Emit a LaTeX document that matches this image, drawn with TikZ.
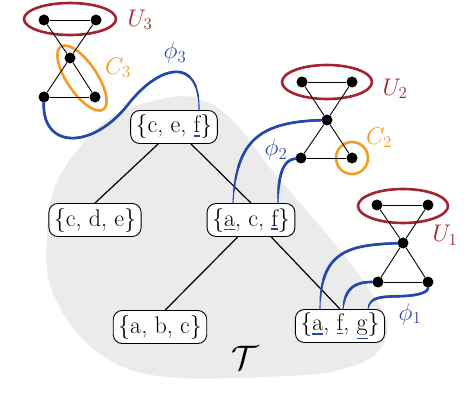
\documentclass[tikz,border=0pt]{standalone}
\usepackage{fix-cm}
\usetikzlibrary{calc,decorations}
\definecolor{phiblue}{HTML}{2449AA}
\definecolor{phitext}{HTML}{3048A0}
\definecolor{ured}{HTML}{A3242F}
\definecolor{corange}{HTML}{F39C26}
\definecolor{blobgray}{HTML}{EBEBEB}
\newcommand\bul[1]{\setbox0=\hbox{#1}\rlap{\color{phiblue}\rule[\dimexpr-\dp0-3.8pt\relax]{\wd0}{1.4pt}}\box0}
\newcommand\phicurve[4]{%
  \draw[phic, line width=1.1pt] #4;
  \draw[phic, line width=1.6pt, decorate, decoration={curveto, pre=moveto, pre length=#1}] #4;
  \draw[phic, line width=2.1pt, decorate, decoration={curveto, pre=moveto, pre length=#2}] #4;
  \draw[phic, line width=2.6pt, decorate, decoration={curveto, pre=moveto, pre length=#3}] #4;}
\begin{document}
\begin{tikzpicture}[x=1pt,y=-1pt,
  bag/.style={draw, line width=0.9pt, fill=white, rounded corners=9pt, minimum height=33pt, inner xsep=5pt, inner ysep=3pt, font=\fontsize{24}{28}\selectfont},
  tedge/.style={line width=1.2pt},
  gv/.style={circle, fill=black, inner sep=0pt, minimum size=11pt},
  gedge/.style={line width=0.9pt},
  uell/.style={draw=ured, line width=2.6pt},
  cell/.style={draw=corange, line width=2.6pt},
  phic/.style={draw=phiblue, line cap=round},
  lab/.style={font=\fontsize{24}{28}\selectfont, inner sep=0pt},
]
\useasboundingbox (0,0) rectangle (474,401);
% shaded region
\fill[blobgray] plot[smooth cycle, tension=0.6] coordinates {(172,97) (113,116) (73,156) (53,192) (47,235) (50,285) (78,334) (123,367) (180,378) (263,377) (330,372) (372,357) (387,334) (383,312) (357,272) (313,218) (270,168) (237,125) (207,102)};
% tree nodes
\node[bag] (cef) at (174,127) {\{c, e, \bul{f}\}};
\node[bag] (cde) at (95,220) {\{c, d, e\}};
\node[bag] (acf) at (251,220) {\{\bul{a}, c, \bul{f}\}};
\node[bag] (abc) at (160,327) {\{a, b, c\}};
\node[bag] (afg) at (340,326) {\{\bul{a}, \bul{f}, \bul{g}\}};
\draw[tedge] (cef.-133) -- (cde.north);
\draw[tedge] (cef.-45) -- (acf.north);
\draw[tedge] (acf.-128) -- (abc.73);
\draw[tedge] (acf.-40) -- (afg.north);
\node[lab, font=\fontsize{34}{38}\selectfont] (tau) at (245,358) {$\mathcal{T}$};
% graph 3
\draw[uell] (70,19) ellipse [x radius=46, y radius=16];
\draw[cell, rotate around={-56:(82,78)}] (82,78) ellipse [x radius=38, y radius=15];
\node[gv] (g3tl) at (44,20) {};
\node[gv] (g3tr) at (96,20) {};
\node[gv] (g3m) at (70,58) {};
\node[gv] (g3bl) at (44,97) {};
\node[gv] (g3br) at (95,97) {};
% graph 2
\draw[uell] (327,82) ellipse [x radius=45, y radius=17];
\draw[cell] (352,158) circle [radius=16];
\node[gv] (g2tl) at (302,82) {};
\node[gv] (g2tr) at (352,82) {};
\node[gv] (g2m) at (327,120) {};
\node[gv] (g2bl) at (301,158) {};
\node[gv] (g2br) at (352,158) {};
% graph 1
\draw[uell] (403,206) ellipse [x radius=45, y radius=17];
\node[gv] (g1tl) at (377,205) {};
\node[gv] (g1tr) at (428,205) {};
\node[gv] (g1m) at (403,243) {};
\node[gv] (g1bl) at (378,282) {};
\node[gv] (g1br) at (428,282) {};
\foreach \g in {g1,g2,g3}{
  \draw[gedge] (\g tl) -- (\g tr);
  \draw[gedge] (\g bl) -- (\g br);
  \draw[gedge] (\g tl) -- (\g m) -- (\g br);
  \draw[gedge] (\g tr) -- (\g m) -- (\g bl);
}
% anchor points on bags
\coordinate (cefF) at ($(cef.north)+(25,0)$);
\coordinate (acfA) at ($(acf.north)+(-18,0)$);
\coordinate (acfF) at ($(acf.north)+(27,0)$);
\coordinate (afgA) at ($(afg.north)+(-20,0)$);
\coordinate (afgF) at ($(afg.north)+(3,0)$);
\coordinate (afgG) at ($(afg.north)+(28,0)$);
% phi curves
\phicurve{12pt}{24pt}{36pt}{(cefF) .. controls (200,58) and (162,63) .. (130,102) .. controls (94,150) and (42,150) .. (g3bl)}
\phicurve{12pt}{24pt}{36pt}{(acfA) .. controls (236,140) and (260,122) .. (g2m)}
\phicurve{5pt}{10pt}{16pt}{(acfF) .. controls (278,170) and (285,160) .. (g2bl)}
\phicurve{10pt}{20pt}{30pt}{(afgA) .. controls (320,250) and (350,245) .. (g1m)}
\phicurve{4pt}{8pt}{13pt}{(afgF) .. controls (345,288) and (355,282) .. (g1bl)}
\phicurve{3pt}{7pt}{11pt}{(afgG) .. controls (370,295) and (385,297) .. (405,296) .. controls (420,295) and (428,292) .. (g1br)}
% labels
\node[lab, text=ured] (u3l) at (140,20) {$U_3$};
\node[lab, text=corange] (c3l) at (118,68) {$C_3$};
\node[lab, text=phitext] (p3l) at (175,53) {$\phi_3$};
\node[lab, text=ured] (u2l) at (395,89) {$U_2$};
\node[lab, text=corange] (c2l) at (379,138) {$C_2$};
\node[lab, text=phitext] (p2l) at (276,150) {$\phi_2$};
\node[lab, text=ured] (u1l) at (445,235) {$U_1$};
\node[lab, text=phitext] (p1l) at (410,314) {$\phi_1$};
\end{tikzpicture}
\end{document}
